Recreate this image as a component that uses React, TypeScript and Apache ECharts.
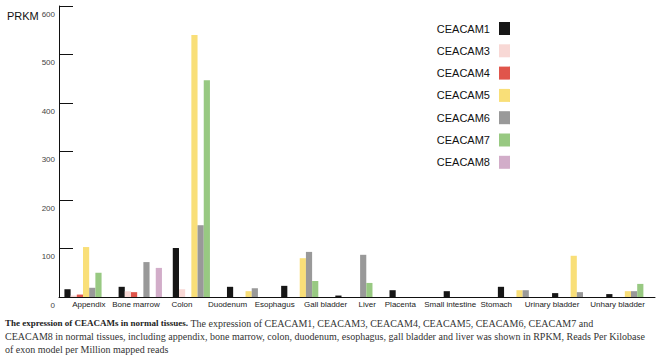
import React, { useEffect, useRef } from "react";
import * as echarts from "echarts";

const groups = ["Appendix", "Bone marrow", "Colon", "Duodenum", "Esophagus", "Gall bladder", "Liver", "Placenta", "Small intestine", "Stomach", "Urinary bladder"];
const tissueLabels = ["Appendix", "Bone marrow", "Colon", "Duodenum", "Esophagus", "Gall bladder", "Liver", "Placenta", "Small intestine", "Stomach", "Urinary bladder", "Unhary bladder"];
const labelSlots = [0.55, 1.42, 2.27, 3.11, 3.98, 4.92, 5.69, 6.3, 7.22, 8.07, 9.1, 10.31];
const yTicks = [0, 100, 200, 300, 400, 500, 600];

const seriesNames = ["CEACAM1", "CEACAM3", "CEACAM4", "CEACAM5", "CEACAM6", "CEACAM7", "CEACAM8"];
const colors = ["#161616", "#f8d8d5", "#e0554b", "#f9df78", "#999999", "#98c982", "#d2adc9"];
const ceacam1 = [16, 21, 101, 21, 23, 3, 14, 12, 21, 8, 6];
const ceacam3 = [3, 12, 16, null, null, null, null, null, null, null, null];
const ceacam4 = [5, 10, null, null, null, null, null, null, null, null, null];
const ceacam5 = [103, null, 540, 12, 80, null, null, null, 14, 85, 12];
const ceacam6 = [19, 72, 148, 18, 93, 87, null, null, 14, 10, 12];
const ceacam7 = [50, null, 447, null, 33, 29, null, null, null, null, 27];
const ceacam8 = [null, 60, null, null, null, null, null, null, null, null, null];
const seriesValues = [ceacam1, ceacam3, ceacam4, ceacam5, ceacam6, ceacam7, ceacam8];

const captionBold = "The expression of CEACAMs in normal tissues.";
const captionLine1 = " The expression of CEACAM1, CEACAM3, CEACAM4, CEACAM5, CEACAM6, CEACAM7 and";
const captionLine2 = "CEACAM8 in normal tissues, including appendix, bone marrow, colon, duodenum, esophagus, gall bladder and liver was shown in RPKM, Reads Per Kilobase";
const captionLine3 = "of exon model per Million mapped reads";

export default function App() {
  const ref = useRef<HTMLDivElement>(null);
  useEffect(() => {
    if (!ref.current) return;
    const chart = echarts.init(ref.current, null, { renderer: "svg" });
    const serifFont = "'Liberation Serif', 'DejaVu Serif', serif";
    const sans = "Arial, 'Liberation Sans', sans-serif";
    chart.setOption({
      animation: false,
      backgroundColor: "#ffffff",
      title: {
        text: "PRKM",
        left: 2,
        top: 5,
        textStyle: { fontFamily: sans, fontSize: 11, fontWeight: "normal", color: "#111" },
      },
      legend: {
        orient: "vertical",
        right: 145,
        top: 17,
        align: "right",
        itemWidth: 11,
        itemHeight: 13,
        itemGap: 9.3,
        icon: "rect",
        data: seriesNames,
        textStyle: { fontFamily: sans, fontSize: 11, color: "#111", padding: [0, 4, 0, 0] },
      },
      grid: { left: 59, right: 5, top: 6, bottom: 63 },
      xAxis: [
        {
          type: "category",
          data: groups,
          axisLine: { lineStyle: { color: "#111", width: 1 } },
          axisTick: { inside: true, length: 7, lineStyle: { color: "#111" } },
          axisLabel: { show: false },
        },
        {
          type: "value",
          position: "bottom",
          min: 0,
          max: groups.length,
          axisLine: { show: false },
          axisTick: { show: false },
          splitLine: { show: false },
          axisLabel: {
            customValues: labelSlots,
            margin: 3,
            fontSize: 8,
            color: "#222",
            fontFamily: sans,
            formatter: (v: number) => {
              const i = labelSlots.indexOf(v);
              return i >= 0 ? tissueLabels[i] : "";
            },
          },
        },
      ],
      yAxis: {
        type: "value",
        min: yTicks[0],
        max: yTicks[yTicks.length - 1],
        interval: 100,
        axisLine: { show: true, lineStyle: { color: "#111" } },
        axisTick: { show: true, inside: true, length: 14, lineStyle: { color: "#111" } },
        splitLine: { show: false },
        axisLabel: {
          margin: 4,
          fontSize: 8,
          color: "#444",
          verticalAlign: "top",
          padding: [4, 0, 0, 0],
          fontFamily: sans,
        },
      },
      series: seriesNames.map((name, i) => ({
        name,
        type: "bar",
        xAxisIndex: 0,
        data: seriesValues[i],
        barGap: "0%",
        barCategoryGap: "20%",
        itemStyle: { color: colors[i] },
      })),
      graphic: [
        {
          type: "text",
          left: 5,
          top: 318,
          style: {
            text: "{b|" + captionBold + "}{n|" + captionLine1 + "}\n{n|" + captionLine2 + "}\n{n|" + captionLine3 + "}",
            rich: {
              b: { fontFamily: serifFont, fontSize: 9, fontWeight: "bold", fill: "#222", lineHeight: 13 },
              n: { fontFamily: serifFont, fontSize: 10, fill: "#333", lineHeight: 13 },
            },
          },
        },
      ],
    });
    return () => chart.dispose();
  }, []);
  return <div ref={ref} style={{ position: "fixed", left: 0, top: 0, width: 660, height: 360 }} />;
}
